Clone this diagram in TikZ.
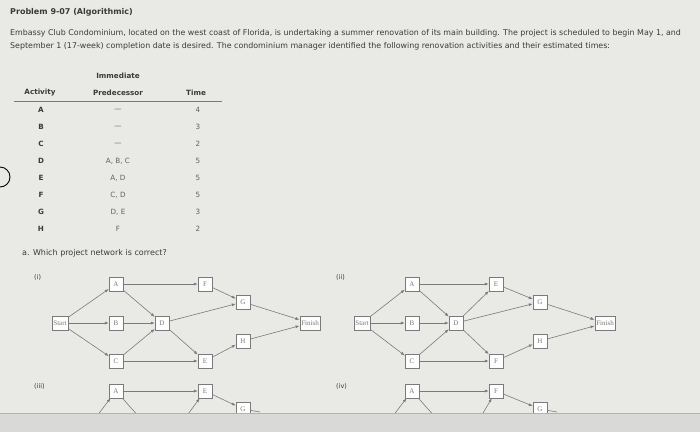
\documentclass[tikz,border=0pt]{standalone}
\usepackage{fontspec}
\setmainfont{DejaVu Sans}
\newfontfamily\nodefont{Liberation Serif}
\usetikzlibrary{arrows.meta}
\definecolor{bg}{HTML}{E9E9E6}
\definecolor{txt}{HTML}{3A3A3A}
\definecolor{ln}{HTML}{7A7A7A}
\begin{document}
\begin{tikzpicture}[x=1pt,y=-1pt,
  box/.style={draw=ln,fill=white!92!bg,font=\nodefont\fontsize{7}{8}\selectfont,text=ln,inner sep=1.5pt,minimum height=14pt,minimum width=14pt},
  arr/.style={draw=ln,line width=0.6pt,-{Latex[length=4pt,width=3pt]}},
  tx/.style={font=\fontsize{8}{9}\selectfont,text=txt,anchor=west,inner sep=0pt},
  th/.style={font=\bfseries\fontsize{7.2}{8}\selectfont,text=txt,inner sep=0pt},
  td/.style={font=\fontsize{7.2}{8}\selectfont,text=txt!80,inner sep=0pt}]
\fill[bg] (0,0) rectangle (700,432);
\useasboundingbox (0,0) rectangle (700,432);
\node[tx,font=\bfseries\fontsize{8}{9}\selectfont] (title) at (10,12) {Problem 9-07 (Algorithmic)};
\node[tx,font=\fontsize{7.9}{9}\selectfont] (p1) at (10,33) {Embassy Club Condominium, located on the west coast of Florida, is undertaking a summer renovation of its main building. The project is scheduled to begin May 1, and};
\node[tx,font=\fontsize{7.9}{9}\selectfont] (p2) at (10,46) {September 1 (17-week) completion date is desired. The condominium manager identified the following renovation activities and their estimated times:};
% table
\node[th] (h1) at (118,76) {Immediate};
\node[th] (h2) at (40,93) {Activity};
\node[th] (h3) at (118,93) {Predecessor};
\node[th] (h4) at (196,93) {Time};
\draw[ln,line width=0.5pt] (14,101) -- (222,101);
\foreach \a/\p/\t [count=\i] in {A/—/4,B/—/3,C/—/2,D/{A, B, C}/5,E/{A, D}/5,F/{C, D}/5,G/{D, E}/3,H/F/2}{
  \node[th] (ra\i) at (41,93+17*\i) {\a};
  \node[td] (rp\i) at (118,93+17*\i) {\p};
  \node[td] (rt\i) at (198,93+17*\i) {\t};
}
\draw[black,line width=0.9pt] (0,187) arc (90:-90:10);
\node[tx] (q) at (22,253) {a. Which project network is correct?};
\begin{scope}
\clip (0,0) rectangle (700,413);
% (i)
\node[tx,font=\fontsize{6.5}{7}\selectfont] (l1) at (34,277) {(i)};
\node[box] (sa) at (60,323) {Start};
\node[box] (aa) at (116,284) {A};
\node[box] (ba) at (116,323) {B};
\node[box] (ca) at (116,361) {C};
\node[box] (da) at (162,323) {D};
\node[box] (fa) at (205,284) {F};
\node[box] (ga) at (243,302) {G};
\node[box] (ea) at (205,361) {E};
\node[box] (ha) at (243,341) {H};
\node[box] (fia) at (310,323) {Finish};
\foreach \u/\v in {sa/aa,sa/ba,sa/ca,aa/fa,aa/da,ba/da,ca/da,ca/ea,fa/ga,da/ga,da/ea,ea/ha,ga/fia,ha/fia}
  \draw[arr] (\u) -- (\v);
% (ii)
\node[tx,font=\fontsize{6.5}{7}\selectfont] (l2) at (336,277) {(ii)};
\node[box] (sb) at (362,323) {Start};
\node[box] (ab) at (412,284) {A};
\node[box] (bb) at (412,323) {B};
\node[box] (cb) at (412,361) {C};
\node[box] (db) at (456,323) {D};
\node[box] (eb) at (496,284) {E};
\node[box] (gb) at (540,302) {G};
\node[box] (fb) at (496,361) {F};
\node[box] (hb) at (540,341) {H};
\node[box] (fib) at (605,323) {Finish};
\foreach \u/\v in {sb/ab,sb/bb,sb/cb,ab/eb,ab/db,bb/db,cb/db,cb/fb,db/eb,db/gb,db/fb,eb/gb,fb/hb,gb/fib,hb/fib}
  \draw[arr] (\u) -- (\v);
% (iii)
\node[tx,font=\fontsize{6.5}{7}\selectfont] (l3) at (34,386) {(iii)};
\node[box] (ac) at (116,391) {A};
\node[box] (ec) at (205,391) {E};
\node[box] (gc) at (243,409) {G};
\coordinate (sc) at (90,425);
\coordinate (dc) at (140,418);
\coordinate (xc) at (180,425);
\coordinate (yc) at (260,412);
\draw[arr] (sc) -- (ac);
\draw[ln,line width=0.6pt] (ac) -- (dc);
\draw[arr] (xc) -- (ec);
\draw[arr] (ac) -- (ec);
\draw[arr] (ec) -- (gc);
\draw[ln,line width=0.6pt] (gc) -- (yc);
% (iv)
\node[tx,font=\fontsize{6.5}{7}\selectfont] (l4) at (336,386) {(iv)};
\node[box] (ad) at (412,391) {A};
\node[box] (fd) at (496,391) {F};
\node[box] (gd) at (540,409) {G};
\coordinate (sd) at (386,425);
\coordinate (dd) at (436,418);
\coordinate (xd) at (476,425);
\coordinate (yd) at (557,412);
\draw[arr] (sd) -- (ad);
\draw[ln,line width=0.6pt] (ad) -- (dd);
\draw[arr] (xd) -- (fd);
\draw[arr] (ad) -- (fd);
\draw[arr] (fd) -- (gd);
\draw[ln,line width=0.6pt] (gd) -- (yd);
\end{scope}
\fill[bg!85!gray] (0,413) rectangle (700,432);
\draw[gray!60,line width=0.6pt] (0,413) -- (700,413);
\end{tikzpicture}
\end{document}
